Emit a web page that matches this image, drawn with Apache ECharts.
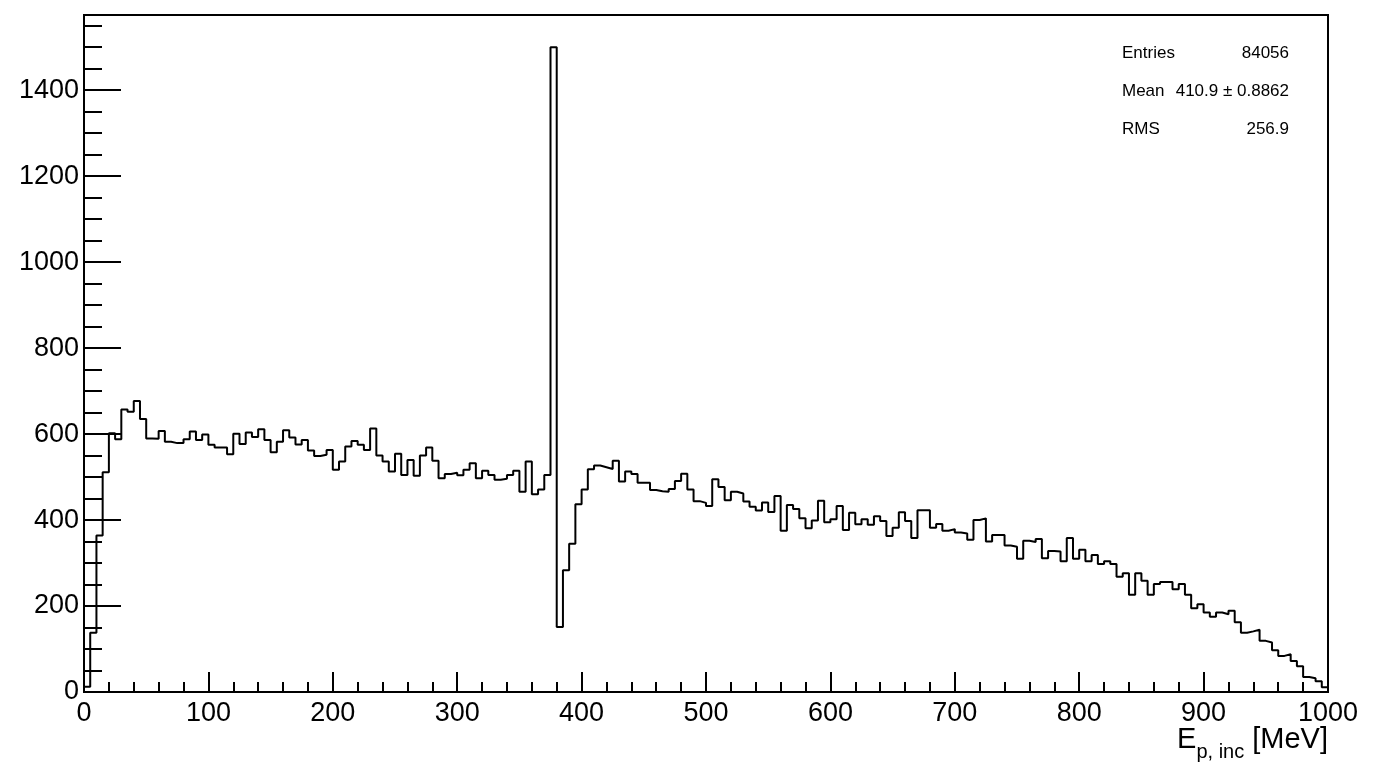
<!DOCTYPE html>
<html>
<head>
<meta charset="utf-8">
<script src="https://cdn.jsdelivr.net/npm/echarts@6/dist/echarts.min.js"></script>
<style>
html,body{margin:0;padding:0;background:#fff;}
#c{width:1380px;height:770px;}
</style>
</head>
<body>
<div id="c"></div>
<script>
// Histogram: 200 bins, 0..1000 MeV (bin width 5)
const xMin = 0, xMax = 1000, nBins = 200;
const counts = [
 12,138,364,511,602,588,657,652,677,635,
 590,589,607,582,579,579,588,606,586,599,
 575,569,569,553,601,577,604,593,611,586,
 558,582,609,592,576,586,562,549,552,563,
 517,536,571,584,575,563,613,550,536,513,
 554,505,540,503,550,569,538,497,507,510,
 504,517,532,497,515,505,494,496,505,515,
 466,536,460,471,505,1500,151,283,345,437,
 471,518,527,523,519,538,490,513,507,487,
 487,470,467,466,472,491,508,471,444,440,
 433,495,477,446,466,462,443,431,422,441,
 419,456,375,435,426,404,381,399,445,395,
 402,433,377,417,390,402,389,409,398,363,
 382,418,398,358,423,423,382,391,375,379,
 371,369,354,400,404,350,365,365,341,338,
 310,352,349,356,311,328,327,304,358,310,
 331,304,319,298,304,298,268,276,226,276,
 259,226,251,256,256,239,251,226,195,204,
 185,175,185,181,189,162,138,141,145,119,
 115,97,84,88,72,60,35,32,25,11
];
const xTicks = [0,100,200,300,400,500,600,700,800,900,1000];
const yTicks = [0,200,400,600,800,1000,1200,1400];
const yMax = 1575;
const statsLabels = ['Entries','Mean','RMS'];
const statsValues = ['84056','410.9 \u00b1 0.8862','256.9'];
const xTitleMain = 'E', xTitleSub = 'p, inc', xTitleUnit = ' [MeV]';

const binWidth = (xMax - xMin) / nBins;
const histData = counts.map((c, i) => [xMin + i * binWidth, c]);
histData.push([xMax, counts[counts.length - 1]]);

const FONT = '"Liberation Sans", Arial, Helvetica, sans-serif';
const chart = echarts.init(document.getElementById('c'), null, {renderer: 'canvas'});

const statsGraphics = [];
statsLabels.forEach((lab, i) => {
  statsGraphics.push({type:'text', left:1122, top:45 + i*38, style:{text:lab, font:'17px ' + FONT, fill:'#000'}});
  statsGraphics.push({type:'text', right:1380-1289, top:45 + i*38, style:{text:statsValues[i], font:'17px ' + FONT, fill:'#000', textAlign:'right'}});
});

chart.setOption({
  animation: false,
  backgroundColor: '#fff',
  grid: {left: 84, right: 52, top: 15, bottom: 78, show: true, borderColor: '#000', borderWidth: 2, backgroundColor: 'transparent', containLabel: false},
  xAxis: {
    type: 'value', min: xMin, max: xMax, interval: 100,
    axisLine: {show: true, lineStyle: {color: '#000', width: 2}},
    axisTick: {show: true, inside: true, length: 20, lineStyle: {color: '#000', width: 2}},
    minorTick: {show: true, splitNumber: 5, length: 10, lineStyle: {color: '#000', width: 2}},
    axisLabel: {show: true, color: '#000', fontSize: 27, fontFamily: FONT, margin: 8,
      formatter: v => xTicks.indexOf(v) >= 0 ? String(v) : ''},
    splitLine: {show: false}
  },
  yAxis: [
    {
      type: 'value', min: 0, max: yMax, interval: 200,
      axisLine: {show: true, lineStyle: {color: '#000', width: 2}},
      axisTick: {show: true, inside: true, length: 37, lineStyle: {color: '#000', width: 2}},
      axisLabel: {show: true, color: '#000', fontSize: 27, fontFamily: FONT, margin: 5, showMaxLabel: false,
        formatter: v => yTicks.indexOf(v) >= 0 ? String(v) : ''},
      splitLine: {show: false}
    },
    {
      type: 'value', min: 0, max: yMax, interval: 50, position: 'left',
      axisLine: {show: false},
      axisTick: {show: true, inside: true, length: 18, lineStyle: {color: '#000', width: 2}},
      axisLabel: {show: false},
      splitLine: {show: false}
    }
  ],
  series: [{
    type: 'line', data: histData, step: 'end', showSymbol: false, symbol: 'none',
    lineStyle: {color: '#000', width: 2}, itemStyle: {color: '#000'}, yAxisIndex: 0,
    silent: true, z: 3
  }],
  graphic: statsGraphics.concat([
    {type:'text', right: 52, top: 725, style: {
      text: '{a|' + xTitleMain + '}{b|' + xTitleSub + '}{a|' + xTitleUnit + '}',
      fill: '#000',
      rich: {
        a: {fontSize: 29, fontFamily: FONT, color: '#000', lineHeight: 32, verticalAlign: 'top'},
        b: {fontSize: 20, fontFamily: FONT, color: '#000', lineHeight: 32, verticalAlign: 'top', padding: [17,0,0,0]}
      }
    }}
  ])
});
</script>
</body>
</html>
